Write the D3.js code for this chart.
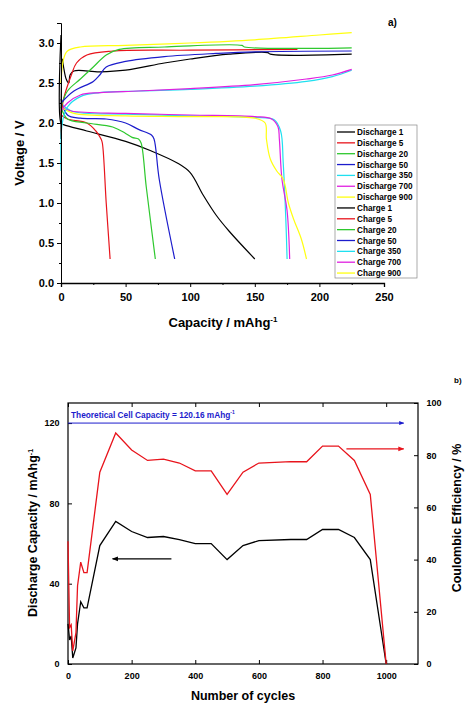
<!DOCTYPE html>
<html><head><meta charset="utf-8">
<script src="https://cdn.jsdelivr.net/npm/d3@7"></script>
<style>
body{margin:0;background:#fff;font-family:"Liberation Sans",Arial,sans-serif;font-weight:bold}
text{font-family:"Liberation Sans",Arial,sans-serif;font-weight:bold}
</style></head>
<body>
<svg id="chart" width="474" height="706"></svg>
<script>
// ---- panel a) : voltage profiles, [capacity, voltage]
var curveNames = ["Discharge 1","Discharge 5","Discharge 20","Discharge 50","Discharge 350","Discharge 700","Discharge 900",
  "Charge 1","Charge 5","Charge 20","Charge 50","Charge 350","Charge 700","Charge 900"]
var curveColors = ["#000000","#e8141c","#2ec82e","#1c1ccc","#20e0f0","#e020e0","#ffff10",
  "#000000","#e8141c","#2ec82e","#1c1ccc","#20e0f0","#e020e0","#ffff10"]
var discharge1 = [[0,3.1],[0,2.0],[2,1.98],[20,1.9],[50,1.77],[70,1.65],[90,1.5],[100,1.38],[110,1.1],[120,0.85],[130,0.65],[150,0.3]]
var discharge5 = [[0,2.1],[5,2.05],[20,2.0],[27,1.9],[31,1.8],[32,1.75],[35,1.0],[38,0.3]]
var discharge20 = [[0,2.2],[5,2.05],[20,2.0],[40,1.95],[50,1.87],[55,1.82],[60,1.8],[62,1.75],[66,1.2],[73,0.3]]
var discharge50 = [[0,2.3],[5,2.1],[15,2.06],[35,2.05],[50,2.0],[60,1.92],[70,1.85],[72,1.8],[76,1.3],[88,0.3]]
var discharge350 = [[0,2.25],[8,2.15],[50,2.11],[100,2.09],[150,2.07],[165,2.04],[170,1.9],[172,1.5],[174,0.8],[175,0.3]]
var discharge700 = [[0,2.2],[8,2.15],[50,2.12],[100,2.1],[150,2.08],[163,2.05],[168,1.95],[169,1.8],[171,1.3],[175,0.9],[177,0.3]]
var discharge900 = [[0,2.2],[10,2.12],[50,2.09],[100,2.08],[150,2.06],[158,2.0],[159,1.8],[162,1.55],[167,1.4],[172,1.3],[176,1.0],[180,0.8],[186,0.55],[190,0.3]]
var charge1 = [[0,1.8],[1,2.8],[2,2.7],[4,2.55],[6,2.5],[7,2.6],[10,2.65],[30,2.64],[50,2.66],[80,2.75],[100,2.8],[130,2.86],[160,2.88],[162,2.86],[225,2.86]]
var charge5 = [[0,2.1],[2,2.3],[8,2.6],[12,2.75],[20,2.85],[40,2.9],[100,2.91],[183,2.92]]
var charge20 = [[0,2.2],[5,2.4],[15,2.55],[25,2.7],[35,2.85],[45,2.92],[80,2.95],[140,2.97],[142,2.95],[225,2.94]]
var charge50 = [[0,2.25],[10,2.4],[25,2.52],[30,2.6],[35,2.7],[50,2.77],[80,2.83],[120,2.87],[150,2.89],[225,2.9]]
var charge350 = [[0,1.4],[1,2.0],[5,2.2],[15,2.33],[30,2.38],[60,2.4],[100,2.42],[150,2.46],[190,2.52],[210,2.58],[225,2.66]]
var charge700 = [[0,2.15],[5,2.25],[15,2.35],[30,2.38],[60,2.4],[100,2.43],[150,2.48],[190,2.55],[210,2.6],[225,2.67]]
var charge900 = [[0,2.5],[2,2.8],[5,2.9],[15,2.95],[50,2.97],[100,3.0],[150,3.04],[200,3.1],[225,3.13]]
var curves = [discharge1,discharge5,discharge20,discharge50,discharge350,discharge700,discharge900,
  charge1,charge5,charge20,charge50,charge350,charge700,charge900]
var aXTicks = [0,50,100,150,200,250]
var aYTicks = [0,0.5,1,1.5,2,2.5,3]

// ---- panel b) : cycling
var cycles = [0,5,10,15,25,30,40,50,60,100,150,200,250,300,350,400,450,500,550,600,700,750,800,850,900,950,1000]
var dischargeCap = [20,12,14,3,8,20,31,28,28,59,71,66,63,63.5,62,60,60,52,59,61.5,62,62,67,67,63,52,0]
var coulEff = [47,14,15,5,12,30,39,35,35,73.5,88.5,82,78,78.5,77,74,74,65,73.5,77,77.5,77.5,83.5,83.5,78,65,0]
var bXTicks = [0,200,400,600,800,1000]
var bYTicks = [0,40,80,120]
var bY2Ticks = [0,20,40,60,80,100]
var theoCap = 120

var svg = d3.select("#chart")

// ===== panel a
var ax = d3.scaleLinear().domain([0,250]).range([61,384])
var ay = d3.scaleLinear().domain([0,3]).range([283,43])
var ga = svg.append("g")

var line = d3.line().x(d => ax(d[0])).y(d => ay(d[1])).curve(d3.curveCatmullRom.alpha(0.5))
curves.forEach((c,i) => {
  ga.append("path").attr("d", line(c)).attr("fill","none")
    .attr("stroke", curveColors[i]).attr("stroke-width",1.2)
})

ga.append("g").attr("transform","translate(0,283)")
  .call(d3.axisBottom(ax).tickValues(aXTicks).tickSize(4))
  .call(g => g.select(".domain").attr("stroke-width",1.3))
  .selectAll("text").attr("font-size",11).attr("dy","1em")
ga.append("g").attr("transform","translate(61,0)")
  .call(d3.axisLeft(ay).tickValues(aYTicks).tickFormat(d3.format(".1f")).tickSize(4))
  .call(g => g.select(".domain").attr("d","M-4,23.5H0.5V283"))
  .selectAll("text").attr("font-size",11)
// minor ticks
ga.append("g").attr("transform","translate(0,283)")
  .call(d3.axisBottom(ax).tickValues(d3.range(25,250,50)).tickSize(2).tickFormat(""))
  .select(".domain").remove()
ga.append("g").attr("transform","translate(61,0)")
  .call(d3.axisLeft(ay).tickValues(d3.range(0.25,3.2,0.5)).tickSize(2).tickFormat(""))
  .select(".domain").remove()

ga.append("text").attr("x",223).attr("y",327).attr("text-anchor","middle").attr("font-size",13)
  .html('Capacity / mAhg<tspan dy="-5" font-size="8">-1</tspan>')
ga.append("text").attr("transform","translate(24,153) rotate(-90)").attr("text-anchor","middle")
  .attr("font-size",13).text("Voltage / V")
ga.append("text").attr("x",388).attr("y",26).attr("font-size",10).text("a)")

// legend
var lg = ga.append("g").attr("transform","translate(335,125)")
lg.append("rect").attr("width",82).attr("height",153).attr("fill","#fff").attr("stroke","#888").attr("stroke-width",0.7)
curveNames.forEach((n,i) => {
  var yy = 7 + i*10.85
  lg.append("line").attr("x1",2).attr("x2",20).attr("y1",yy).attr("y2",yy)
    .attr("stroke",curveColors[i]).attr("stroke-width",1.3)
  lg.append("text").attr("x",22).attr("y",yy+3).attr("font-size",8.2).text(n)
})

// ===== panel b
var bx = d3.scaleLinear().domain([0,1100]).range([68,418])
var by = d3.scaleLinear().domain([0,130]).range([664,403])
var by2 = d3.scaleLinear().domain([0,100]).range([664,403])
var gb = svg.append("g")

gb.append("rect").attr("x",68).attr("y",403).attr("width",350).attr("height",261)
  .attr("fill","none").attr("stroke","#000").attr("stroke-width",1.2)

gb.append("g").attr("transform","translate(0,664)")
  .call(d3.axisBottom(bx).tickValues(bXTicks).tickFormat(d3.format("d")).tickSize(-4))
  .call(g => g.select(".domain").remove())
  .selectAll("text").attr("font-size",9).attr("dy","1.3em")
gb.append("g").attr("transform","translate(0,403)")
  .call(d3.axisTop(bx).tickValues(bXTicks).tickSize(-4).tickFormat(""))
  .select(".domain").remove()
gb.append("g").attr("transform","translate(68,0)")
  .call(d3.axisLeft(by).tickValues(bYTicks).tickSize(-4))
  .call(g => g.select(".domain").remove())
  .selectAll("text").attr("font-size",9).attr("dx","-0.6em")
gb.append("g").attr("transform","translate(418,0)")
  .call(d3.axisRight(by2).tickValues(bY2Ticks).tickSize(-4))
  .call(g => g.select(".domain").remove())
  .selectAll("text").attr("font-size",9).attr("dx","0.6em")

var defs = svg.append("defs")
;[["ab","#1c1ccc"],["ak","#000"],["ar","#e8141c"]].forEach(m => {
  defs.append("marker").attr("id",m[0]).attr("viewBox","0 0 10 10").attr("refX",9).attr("refY",5)
    .attr("markerWidth",5).attr("markerHeight",5).attr("orient","auto")
    .append("path").attr("d","M0,1L10,5L0,9Z").attr("fill",m[1])
})

gb.append("line").attr("x1",bx(0)).attr("x2",bx(1055)).attr("y1",by(theoCap)).attr("y2",by(theoCap))
  .attr("stroke","#1c1ccc").attr("stroke-width",1).attr("marker-end","url(#ab)")
gb.append("text").attr("x",71).attr("y",by(theoCap)-5).attr("font-size",8.3).attr("fill","#1c1ccc")
  .html('Theoretical Cell Capacity = 120.16 mAhg<tspan dy="-4" font-size="5">-1</tspan>')

gb.append("path").attr("d", d3.line().x((d,i) => bx(cycles[i])).y(d => by(d))(dischargeCap))
  .attr("fill","none").attr("stroke","#000").attr("stroke-width",1.3)
gb.append("path").attr("d", d3.line().x((d,i) => bx(cycles[i])).y(d => by2(d))(coulEff))
  .attr("fill","none").attr("stroke","#e8141c").attr("stroke-width",1.3)

gb.append("line").attr("x1",bx(325)).attr("x2",bx(140)).attr("y1",by(52.4)).attr("y2",by(52.4))
  .attr("stroke","#000").attr("stroke-width",1.2).attr("marker-end","url(#ak)")
gb.append("line").attr("x1",bx(875)).attr("x2",bx(1055)).attr("y1",by2(82.4)).attr("y2",by2(82.4))
  .attr("stroke","#e8141c").attr("stroke-width",1.2).attr("marker-end","url(#ar)")

gb.append("text").attr("x",243).attr("y",700).attr("text-anchor","middle").attr("font-size",12.5)
  .text("Number of cycles")
gb.append("text").attr("transform","translate(37,533) rotate(-90)").attr("text-anchor","middle")
  .attr("font-size",12.5).html('Discharge Capacity / mAhg<tspan dy="-4" font-size="7">-1</tspan>')
gb.append("text").attr("transform","translate(461,518) rotate(-90)").attr("text-anchor","middle")
  .attr("font-size",12.5).text("Coulombic Efficiency / %")
gb.append("text").attr("x",454).attr("y",383).attr("font-size",8).text("b)")
</script>
</body></html>
